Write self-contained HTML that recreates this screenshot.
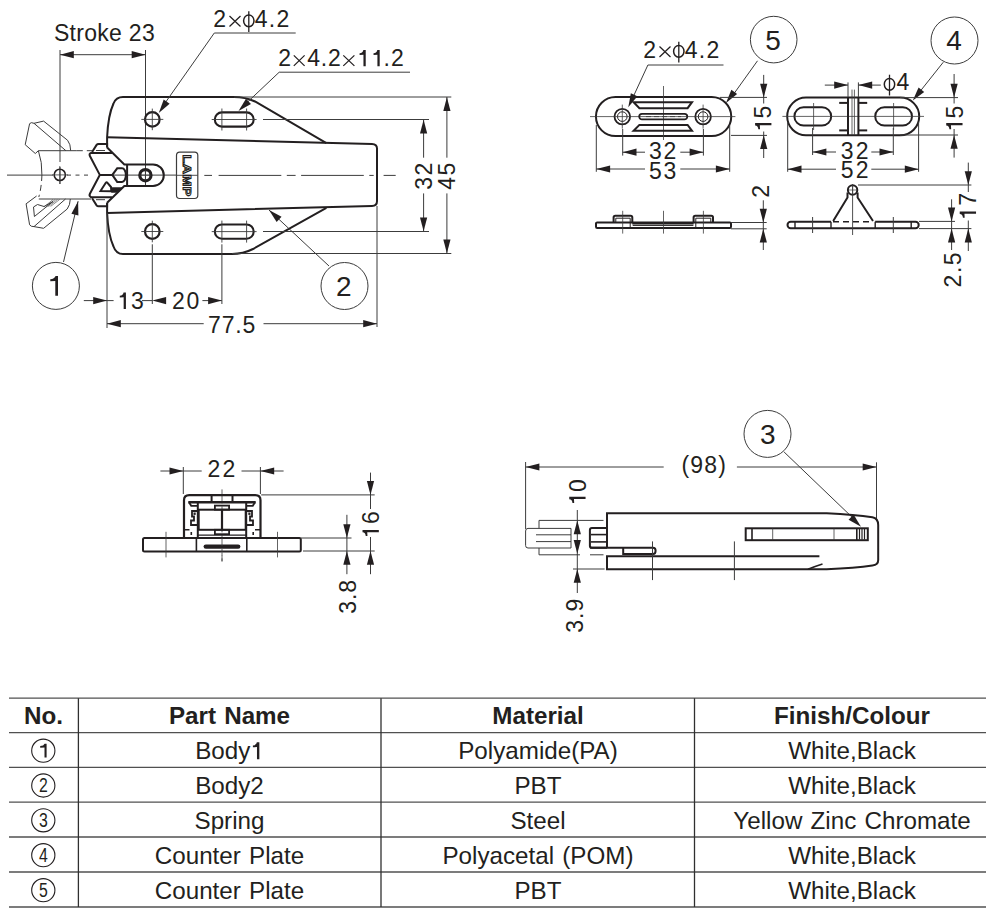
<!DOCTYPE html>
<html><head><meta charset="utf-8"><style>
html,body{margin:0;padding:0;background:#fff;}
svg{display:block;}
text{font-family:"Liberation Sans",sans-serif;fill:#231f20;}
</style></head><body>
<svg width="1000" height="915" viewBox="0 0 1000 915">
<rect width="1000" height="915" fill="#fff"/>
<text transform="translate(53.88,41.47)" font-size="23.00" letter-spacing="0.30" font-weight="normal">Stroke 23</text>
<line x1="60" y1="50" x2="60" y2="162" stroke="#3c3c3c" stroke-width="1.0"/>
<line x1="60" y1="167" x2="60" y2="184" stroke="#3c3c3c" stroke-width="1.0"/>
<line x1="145.5" y1="50" x2="145.5" y2="185" stroke="#3c3c3c" stroke-width="1.0"/>
<line x1="60" y1="54.7" x2="145.5" y2="54.7" stroke="#3c3c3c" stroke-width="1.0"/>
<path d="M60,54.7 L73.8,51.1 L73.8,58.3 Z" fill="#231f20"/>
<path d="M145.5,54.7 L131.7,58.3 L131.7,51.1 Z" fill="#231f20"/>
<path d="M38.4,150.7 L35.3,153.5 L25.2,144.7 L29.6,123.7 Q31,121.8 34,123.3 L43.6,121.1 L67.6,140.3 Q70.6,144 70.7,150.7" fill="none" stroke="#3c3c3c" stroke-width="1.0" />
<line x1="34" y1="123.3" x2="65.9" y2="150.7" stroke="#3c3c3c" stroke-width="1.0"/>
<line x1="38.4" y1="150.7" x2="76.8" y2="150.7" stroke="#3c3c3c" stroke-width="1.0"/>
<line x1="76.8" y1="150.7" x2="92" y2="150.7" stroke="#3c3c3c" stroke-width="1.0" stroke-dasharray="6 4"/>
<path d="M38.4,150.8 Q42.3,162 41.9,174.9" fill="none" stroke="#3c3c3c" stroke-width="1.0" />
<path d="M41.9,174.9 Q41.6,187 38.8,197" fill="none" stroke="#3c3c3c" stroke-width="1.0" stroke-dasharray="6 4"/>
<line x1="38.8" y1="199" x2="91" y2="199" stroke="#3c3c3c" stroke-width="1.0"/>
<path d="M36.6,196 L26.1,203.8 L29.6,224.8 Q31,226.8 34,226.6 L43.6,228.3 L67.2,209 Q70.2,205 70.3,199" fill="none" stroke="#3c3c3c" stroke-width="1.0" />
<line x1="34" y1="226.6" x2="65.5" y2="199" stroke="#3c3c3c" stroke-width="1.0"/>
<path d="M37.5,204.5 L33.5,207 L34.4,216.5 L53,201.5 L44,206.5 Z" fill="none" stroke="#3c3c3c" stroke-width="1.0" />
<line x1="44" y1="207" x2="53" y2="199.5" stroke="#3c3c3c" stroke-width="0.6"/>
<line x1="46.2" y1="206.8" x2="55.2" y2="199.5" stroke="#3c3c3c" stroke-width="0.6"/>
<line x1="48.4" y1="206.6" x2="57.4" y2="199.5" stroke="#3c3c3c" stroke-width="0.6"/>
<line x1="50.6" y1="206.4" x2="59.6" y2="199.5" stroke="#3c3c3c" stroke-width="0.6"/>
<circle cx="59.8" cy="174.9" r="5.6" fill="none" stroke="#231f20" stroke-width="1.6"/>
<line x1="52" y1="174.9" x2="68" y2="174.9" stroke="#3c3c3c" stroke-width="0.8"/>
<line x1="59.8" y1="166" x2="59.8" y2="184" stroke="#3c3c3c" stroke-width="0.8"/>
<line x1="7" y1="175.1" x2="53" y2="175.1" stroke="#3c3c3c" stroke-width="1.0"/>
<line x1="67" y1="175.1" x2="92" y2="175.1" stroke="#3c3c3c" stroke-width="1.0" stroke-dasharray="4 4.5"/>
<line x1="99.8" y1="175.1" x2="176.5" y2="175.1" stroke="#3c3c3c" stroke-width="1.0"/>
<line x1="176.5" y1="175.3" x2="197.8" y2="175.3" stroke="#3c3c3c" stroke-width="0.9"/>
<path d="M204.3,175.4 H212 M218.6,175.4 H281.3 M286.8,175.4 H295.6 M301.1,175.4 H363.8 M369.3,175.4 H373.7 M383.6,175.4 H395.7" stroke="#3c3c3c" stroke-width="1" fill="none"/>
<path d="M107.1,147.5 L107.1,137.2 C107.8,122 110.5,110 113.5,103.5 Q116,97 123,97 L234,97 Q245,97 255,101.5 L326.4,143.2" fill="none" stroke="#231f20" stroke-width="2.0" />
<path d="M107.1,137.2 L372,143.9 Q377,144 377,148.5 L377,201.3 Q377,205.9 372,205.9 L107.1,213" fill="none" stroke="#231f20" stroke-width="2.0" />
<path d="M107.1,202.7 L107.1,213 C107.8,228 110.5,240 113.5,246.5 Q116,254 123,254 L232,254 Q243,254 253,249 L326.4,207.8" fill="none" stroke="#231f20" stroke-width="2.0" />
<circle cx="152.3" cy="119.4" r="7.3" fill="none" stroke="#231f20" stroke-width="2.2"/>
<line x1="141.3" y1="119.4" x2="163.3" y2="119.4" stroke="#3c3c3c" stroke-width="0.9"/>
<line x1="152.3" y1="108.6" x2="152.3" y2="130.2" stroke="#3c3c3c" stroke-width="0.9"/>
<circle cx="152.3" cy="231.5" r="7.3" fill="none" stroke="#231f20" stroke-width="2.2"/>
<line x1="141.3" y1="231.5" x2="163.3" y2="231.5" stroke="#3c3c3c" stroke-width="0.9"/>
<line x1="152.3" y1="220.7" x2="152.3" y2="242.3" stroke="#3c3c3c" stroke-width="0.9"/>
<path d="M221.9,112.4 L246.6,112.4 A7.1,7.1 0 0 1 246.6,126.6 L221.9,126.6 A7.1,7.1 0 0 1 221.9,112.4 Z" fill="none" stroke="#231f20" stroke-width="2.1" />
<line x1="221.9" y1="108.5" x2="221.9" y2="130.5" stroke="#3c3c3c" stroke-width="0.9"/>
<line x1="246.6" y1="108.5" x2="246.6" y2="130.5" stroke="#3c3c3c" stroke-width="0.9"/>
<line x1="211.7" y1="119.5" x2="256.6" y2="119.5" stroke="#3c3c3c" stroke-width="0.9"/>
<path d="M221.9,224.5 L246.6,224.5 A7.1,7.1 0 0 1 246.6,238.7 L221.9,238.7 A7.1,7.1 0 0 1 221.9,224.5 Z" fill="none" stroke="#231f20" stroke-width="2.1" />
<line x1="221.9" y1="220.6" x2="221.9" y2="242.6" stroke="#3c3c3c" stroke-width="0.9"/>
<line x1="246.6" y1="220.6" x2="246.6" y2="242.6" stroke="#3c3c3c" stroke-width="0.9"/>
<line x1="211.7" y1="231.6" x2="256.6" y2="231.6" stroke="#3c3c3c" stroke-width="0.9"/>
<line x1="263" y1="119.5" x2="429" y2="119.5" stroke="#3c3c3c" stroke-width="1.0"/>
<line x1="263" y1="231.5" x2="429" y2="231.5" stroke="#3c3c3c" stroke-width="1.0"/>
<line x1="234" y1="97" x2="451.3" y2="97" stroke="#3c3c3c" stroke-width="1.0"/>
<line x1="232" y1="253.5" x2="451.3" y2="253.5" stroke="#3c3c3c" stroke-width="1.0"/>
<path d="M107.1,147.5 L124.3,164.4 L153,164.4 A10.8,10.8 0 0 1 153,186 L124.3,186 L107.1,202.7" fill="none" stroke="#231f20" stroke-width="2.0" />
<path d="M112,153 L91,153 Q88.8,153.8 89.9,156 L99.8,174.9 L89.9,193.8 Q88.8,196 91,197.2 L112,197.2" fill="none" stroke="#231f20" stroke-width="2.0" />
<path d="M92.1,152 L96.6,144.9 Q97.3,144 98.5,144 L107.1,144 L107.1,147.5" fill="none" stroke="#231f20" stroke-width="2.0" />
<path d="M92.1,198.2 L96.6,205.3 Q97.3,206.2 98.5,206.2 L107.1,206.2 L107.1,202.7" fill="none" stroke="#231f20" stroke-width="2.0" />
<line x1="96" y1="150.5" x2="105" y2="150.5" stroke="#3c3c3c" stroke-width="1.0"/>
<line x1="96" y1="199.7" x2="105" y2="199.7" stroke="#3c3c3c" stroke-width="1.0"/>
<line x1="127.1" y1="164.4" x2="127.1" y2="186" stroke="#231f20" stroke-width="2.0"/>
<path d="M99.8,174.9 L112.3,174.9 L117.2,168.3 L122,168.3 A3.9,6.8 0 0 1 122,181.9 L117.2,181.9 L112.3,174.9" fill="none" stroke="#231f20" stroke-width="2.0" />
<path d="M100.5,191 L105.8,182.8 Q106.6,181.8 107.5,182.8 L111,187 L111.3,191.3 Z" fill="none" stroke="#231f20" stroke-width="2.0" />
<path d="M111,187.2 L123.3,187.2 L116.5,192.8 L111.3,192.8 Z" fill="#231f20"/>
<circle cx="145.4" cy="175.2" r="5.6" fill="none" stroke="#231f20" stroke-width="3.2"/>
<line x1="140" y1="175.2" x2="151" y2="175.2" stroke="#3c3c3c" stroke-width="0.7"/>
<line x1="145.4" y1="170" x2="145.4" y2="180.5" stroke="#3c3c3c" stroke-width="0.7"/>
<rect x="176.5" y="152.2" width="21.3" height="46.3" rx="3.2" fill="none" stroke="#3c3c3c" stroke-width="1.2"/>
<text transform="translate(183.1,175.7) rotate(90) scale(1.26,1)" text-anchor="middle" font-weight="bold" font-size="11.3" style="fill:#fff" stroke="#231f20" stroke-width="1.0" letter-spacing="0.3">LAMP</text>
<line x1="214.3" y1="33" x2="295.7" y2="33" stroke="#3c3c3c" stroke-width="1.0"/>
<line x1="214.3" y1="33" x2="164" y2="104.5" stroke="#3c3c3c" stroke-width="1.0"/>
<path d="M158.8,113 L163.71,99.61 L169.62,103.71 Z" fill="#231f20"/>
<text transform="translate(213.28,27.34)" font-size="23.00" letter-spacing="0.00" font-weight="normal">2</text>
<path d="M229.5,16 L240.5,26.5 M240.5,16 L229.5,26.5" stroke="#231f20" stroke-width="1.25" fill="none"/>
<ellipse cx="248.8" cy="20.8" rx="5.2" ry="5.9" stroke="#231f20" stroke-width="1.5" fill="none"/>
<line x1="248.8" y1="11.2" x2="248.8" y2="32" stroke="#231f20" stroke-width="1.3"/>
<text transform="translate(254.74,27.34)" font-size="23.00" letter-spacing="1.31" font-weight="normal">4.2</text>
<line x1="279.2" y1="72.2" x2="410" y2="72.2" stroke="#3c3c3c" stroke-width="1.0"/>
<line x1="279.2" y1="72.2" x2="246" y2="103.5" stroke="#3c3c3c" stroke-width="1.0"/>
<path d="M238.5,111 L246,98.87 L250.97,104.08 Z" fill="#231f20"/>
<text transform="translate(278.33,66.29)" font-size="23.00" letter-spacing="0.00" font-weight="normal">2</text>
<path d="M293.8,55.4 L304.6,65.9 M304.6,55.4 L293.8,65.9" stroke="#231f20" stroke-width="1.25" fill="none"/>
<text transform="translate(307.14,66.29)" font-size="23.00" letter-spacing="0.81" font-weight="normal">4.2</text>
<path d="M343.3,55.4 L354.4,65.9 M354.4,55.4 L343.3,65.9" stroke="#231f20" stroke-width="1.25" fill="none"/>
<g transform="translate(357.16,66.29)"><text font-size="23.00" letter-spacing="1.17" font-weight="normal"><tspan style="fill:none">1</tspan><tspan style="fill:none">1</tspan>.2</text><path d="M8.56,-16.31 L8.56,0 L6.30,0 L6.30,-11.59 L2.42,-11.36 L2.42,-13.09 Q5.84,-13.32 6.19,-16.31 ZM22.52,-16.31 L22.52,0 L20.26,0 L20.26,-11.59 L16.38,-11.36 L16.38,-13.09 Q19.80,-13.32 20.15,-16.31 Z" fill="#231f20"/></g>
<line x1="78.1" y1="201.2" x2="63.5" y2="262" stroke="#3c3c3c" stroke-width="1.0"/>
<path d="M78.1,201.2 L78.38,215.46 L71.38,213.78 Z" fill="#231f20"/>
<circle cx="55.9" cy="285.9" r="23.5" fill="#fff" stroke="#3c3c3c" stroke-width="1.0"/>
<path d="M58,276 L58,295.75 L55.3,295.75 L55.3,280.9 L50.3,281.3 L50.3,279.3 Q54.4,279 55.6,276 Z" fill="#231f20"/>
<circle cx="344.5" cy="286" r="23.5" fill="#fff" stroke="#3c3c3c" stroke-width="1.0"/>
<text transform="translate(336.12,295.59)" font-size="28.00" letter-spacing="0.00" font-weight="normal">2</text>
<line x1="269" y1="210" x2="329" y2="266" stroke="#3c3c3c" stroke-width="1.0"/>
<path d="M269,210 L281.54,216.78 L276.63,222.05 Z" fill="#231f20"/>
<line x1="423.6" y1="119.5" x2="423.6" y2="157.7" stroke="#3c3c3c" stroke-width="1.0"/>
<line x1="423.6" y1="193.4" x2="423.6" y2="231.5" stroke="#3c3c3c" stroke-width="1.0"/>
<path d="M423.6,119.8 L427.2,133.6 L420,133.6 Z" fill="#231f20"/>
<path d="M423.6,231.2 L420,217.4 L427.2,217.4 Z" fill="#231f20"/>
<text transform="translate(431.81,189.72) rotate(-90)" font-size="23.00" letter-spacing="1.47" font-weight="normal">32</text>
<line x1="446.9" y1="97" x2="446.9" y2="157.7" stroke="#3c3c3c" stroke-width="1.0"/>
<line x1="446.9" y1="193.4" x2="446.9" y2="253.5" stroke="#3c3c3c" stroke-width="1.0"/>
<path d="M446.9,97.3 L450.5,111.1 L443.3,111.1 Z" fill="#231f20"/>
<path d="M446.9,253.2 L443.3,239.4 L450.5,239.4 Z" fill="#231f20"/>
<text transform="translate(455.06,189.66) rotate(-90)" font-size="23.00" letter-spacing="1.41" font-weight="normal">45</text>
<line x1="107" y1="213" x2="107" y2="328" stroke="#3c3c3c" stroke-width="1.0"/>
<line x1="152.3" y1="244.3" x2="152.3" y2="304" stroke="#3c3c3c" stroke-width="1.0"/>
<line x1="221.9" y1="244.3" x2="221.9" y2="304" stroke="#3c3c3c" stroke-width="1.0"/>
<line x1="377" y1="206" x2="377" y2="327" stroke="#3c3c3c" stroke-width="1.0"/>
<line x1="83.8" y1="300.6" x2="113.6" y2="300.6" stroke="#3c3c3c" stroke-width="1.0"/>
<path d="M107,300.6 L93.2,304.2 L93.2,297 Z" fill="#231f20"/>
<g transform="translate(117.36,308.91)"><text font-size="23.00" letter-spacing="0.79" font-weight="normal"><tspan style="fill:none">1</tspan>3</text><path d="M8.56,-16.31 L8.56,0 L6.30,0 L6.30,-11.59 L2.42,-11.36 L2.42,-13.09 Q5.84,-13.32 6.19,-16.31 Z" fill="#231f20"/></g>
<line x1="142" y1="300.6" x2="152.3" y2="300.6" stroke="#3c3c3c" stroke-width="1.0"/>
<path d="M152.3,300.6 L166.1,297 L166.1,304.2 Z" fill="#231f20"/>
<text transform="translate(172.12,308.91)" font-size="23.00" letter-spacing="1.67" font-weight="normal">20</text>
<line x1="202.4" y1="300.6" x2="221.9" y2="300.6" stroke="#3c3c3c" stroke-width="1.0"/>
<path d="M221.9,300.6 L208.1,304.2 L208.1,297 Z" fill="#231f20"/>
<line x1="107" y1="323.7" x2="203.7" y2="323.7" stroke="#3c3c3c" stroke-width="1.0"/>
<path d="M107,323.7 L120.8,320.1 L120.8,327.3 Z" fill="#231f20"/>
<text transform="translate(208.02,332.61)" font-size="23.00" letter-spacing="0.85" font-weight="normal">77.5</text>
<line x1="263.5" y1="323.7" x2="377" y2="323.7" stroke="#3c3c3c" stroke-width="1.0"/>
<path d="M377,323.7 L363.2,327.3 L363.2,320.1 Z" fill="#231f20"/>
<path d="M615.5,97 L711.7,97 A19.5,19.5 0 0 1 711.7,136.1 L615.5,136.1 A19.5,19.5 0 0 1 615.5,97 Z" fill="none" stroke="#231f20" stroke-width="2.0" />
<circle cx="622.3" cy="116.6" r="7.8" fill="none" stroke="#231f20" stroke-width="1.8"/>
<circle cx="622.3" cy="116.6" r="4.8" fill="none" stroke="#231f20" stroke-width="1.0"/>
<line x1="622.3" y1="104.6" x2="622.3" y2="128.6" stroke="#3c3c3c" stroke-width="0.8"/>
<circle cx="703.1" cy="116.6" r="7.8" fill="none" stroke="#231f20" stroke-width="1.8"/>
<circle cx="703.1" cy="116.6" r="4.8" fill="none" stroke="#231f20" stroke-width="1.0"/>
<line x1="703.1" y1="104.6" x2="703.1" y2="128.6" stroke="#3c3c3c" stroke-width="0.8"/>
<line x1="590" y1="116.6" x2="735.4" y2="116.6" stroke="#3c3c3c" stroke-width="0.8"/>
<line x1="663.5" y1="86" x2="663.5" y2="140" stroke="#3c3c3c" stroke-width="0.8"/>
<path d="M633.6,102.2 L692,102.2 L687.6,108.2 L639.4,108.2 Z" fill="none" stroke="#231f20" stroke-width="2.0" />
<path d="M633.6,130.8 L692,130.8 L687.6,124.9 L639.4,124.9 Z" fill="none" stroke="#231f20" stroke-width="2.0" />
<path d="M642,113.8 L684.5,113.8 A2.8,2.8 0 0 1 684.5,119.4 L642,119.4 A2.8,2.8 0 0 1 642,113.8 Z" fill="none" stroke="#231f20" stroke-width="1.8" />
<line x1="646" y1="116.6" x2="681" y2="116.6" stroke="#3c3c3c" stroke-width="0.9" stroke-dasharray="5 3"/>
<text transform="translate(643.28,57.84)" font-size="23.00" letter-spacing="0.00" font-weight="normal">2</text>
<path d="M659.5,46.5 L670.5,57 M670.5,46.5 L659.5,57" stroke="#231f20" stroke-width="1.25" fill="none"/>
<ellipse cx="678.8" cy="51.3" rx="5.2" ry="5.9" stroke="#231f20" stroke-width="1.5" fill="none"/>
<line x1="678.8" y1="41.7" x2="678.8" y2="62.5" stroke="#231f20" stroke-width="1.3"/>
<text transform="translate(684.74,57.84)" font-size="23.00" letter-spacing="1.31" font-weight="normal">4.2</text>
<line x1="647.9" y1="65" x2="723.5" y2="65" stroke="#3c3c3c" stroke-width="1.0"/>
<line x1="647.9" y1="65" x2="631.5" y2="100.5" stroke="#3c3c3c" stroke-width="1.0"/>
<path d="M628.3,107.2 L630.85,93.17 L637.38,96.2 Z" fill="#231f20"/>
<circle cx="773.7" cy="39.6" r="23.3" fill="#fff" stroke="#3c3c3c" stroke-width="1.0"/>
<text transform="translate(765.34,50.38)" font-size="28.00" letter-spacing="0.00" font-weight="normal">5</text>
<line x1="757.5" y1="60.8" x2="733" y2="95" stroke="#3c3c3c" stroke-width="1.0"/>
<path d="M726,103 L731.37,89.79 L737.14,94.09 Z" fill="#231f20"/>
<line x1="720" y1="97.4" x2="767" y2="97.4" stroke="#3c3c3c" stroke-width="1.0"/>
<line x1="731" y1="135.4" x2="767" y2="135.4" stroke="#3c3c3c" stroke-width="1.0"/>
<line x1="763.7" y1="74.9" x2="763.7" y2="103.5" stroke="#3c3c3c" stroke-width="1.0"/>
<path d="M763.7,97.6 L760.1,83.8 L767.3,83.8 Z" fill="#231f20"/>
<line x1="763.7" y1="131.5" x2="763.7" y2="158" stroke="#3c3c3c" stroke-width="1.0"/>
<path d="M763.7,135.3 L767.3,149.1 L760.1,149.1 Z" fill="#231f20"/>
<g transform="translate(771.41,131.59) rotate(-90)"><text font-size="23.00" letter-spacing="0.34" font-weight="normal"><tspan style="fill:none">1</tspan>5</text><path d="M8.56,-16.31 L8.56,0 L6.30,0 L6.30,-11.59 L2.42,-11.36 L2.42,-13.09 Q5.84,-13.32 6.19,-16.31 Z" fill="#231f20"/></g>
<line x1="622.7" y1="129" x2="622.7" y2="155.6" stroke="#3c3c3c" stroke-width="1.0"/>
<line x1="703.4" y1="129" x2="703.4" y2="155.6" stroke="#3c3c3c" stroke-width="1.0"/>
<line x1="596.3" y1="125" x2="596.3" y2="171.8" stroke="#3c3c3c" stroke-width="1.0"/>
<line x1="729.7" y1="125" x2="729.7" y2="171.8" stroke="#3c3c3c" stroke-width="1.0"/>
<line x1="622.7" y1="152.2" x2="645" y2="152.2" stroke="#3c3c3c" stroke-width="1.0"/>
<path d="M622.7,152.2 L636.5,148.6 L636.5,155.8 Z" fill="#231f20"/>
<line x1="680.3" y1="152.2" x2="703.4" y2="152.2" stroke="#3c3c3c" stroke-width="1.0"/>
<path d="M703.4,152.2 L689.6,155.8 L689.6,148.6 Z" fill="#231f20"/>
<text transform="translate(648.98,159.16)" font-size="23.00" letter-spacing="1.77" font-weight="normal">32</text>
<line x1="596.3" y1="169" x2="645" y2="169" stroke="#3c3c3c" stroke-width="1.0"/>
<path d="M596.3,169 L610.1,165.4 L610.1,172.6 Z" fill="#231f20"/>
<line x1="680.3" y1="169" x2="729.7" y2="169" stroke="#3c3c3c" stroke-width="1.0"/>
<path d="M729.7,169 L715.9,172.6 L715.9,165.4 Z" fill="#231f20"/>
<text transform="translate(648.98,178.71)" font-size="23.00" letter-spacing="1.77" font-weight="normal">53</text>
<path d="M613.6,222.5 L613.6,217.5 Q613.6,215.8 615.3,215.8 L630.6,215.8 Q632.3,215.8 632.3,217.5 L632.3,222.5" fill="none" stroke="#231f20" stroke-width="2.0" />
<path d="M693.6,222.5 L693.6,217.5 Q693.6,215.8 695.3,215.8 L711.3,215.8 Q713,215.8 713,217.5 L713,222.5" fill="none" stroke="#231f20" stroke-width="2.0" />
<path d="M615.8,222.5 L615.8,218.2 L630.2,218.2 L630.2,227 M695.8,227 L695.8,218.2 L710.8,218.2 L710.8,222.5" fill="none" stroke="#231f20" stroke-width="1.0" />
<rect x="596" y="222.4" width="135" height="5.6" rx="1.2" fill="none" stroke="#231f20" stroke-width="2.0"/>
<line x1="632.3" y1="223.3" x2="693.6" y2="223.3" stroke="#231f20" stroke-width="2.4"/>
<line x1="632.7" y1="225.4" x2="693.4" y2="225.4" stroke="#231f20" stroke-width="1.0"/>
<line x1="622.7" y1="210.8" x2="622.7" y2="233.6" stroke="#3c3c3c" stroke-width="0.8"/>
<line x1="663.5" y1="210.8" x2="663.5" y2="233.6" stroke="#3c3c3c" stroke-width="0.8"/>
<line x1="703.4" y1="210.8" x2="703.4" y2="233.6" stroke="#3c3c3c" stroke-width="0.8"/>
<line x1="731" y1="222.5" x2="766.7" y2="222.5" stroke="#3c3c3c" stroke-width="1.0"/>
<line x1="731" y1="228.8" x2="766.7" y2="228.8" stroke="#3c3c3c" stroke-width="1.0"/>
<line x1="763.3" y1="200.3" x2="763.3" y2="250" stroke="#3c3c3c" stroke-width="1.0"/>
<path d="M763.3,222.5 L759.7,208.7 L766.9,208.7 Z" fill="#231f20"/>
<path d="M763.3,228.8 L766.9,242.6 L759.7,242.6 Z" fill="#231f20"/>
<text transform="translate(768.96,197.72) rotate(-90)" font-size="23.00" letter-spacing="0.00" font-weight="normal">2</text>
<path d="M806,97.6 L900.4,97.6 A18.8,18.8 0 0 1 900.4,135.2 L806,135.2 A18.8,18.8 0 0 1 806,97.6 Z" fill="none" stroke="#231f20" stroke-width="2.0" />
<path d="M803.6,107.2 L822,107.2 A9.2,9.2 0 0 1 822,125.6 L803.6,125.6 A9.2,9.2 0 0 1 803.6,107.2 Z" fill="none" stroke="#231f20" stroke-width="2.0" />
<path d="M884.4,107.2 L902.8,107.2 A9.2,9.2 0 0 1 902.8,125.6 L884.4,125.6 A9.2,9.2 0 0 1 884.4,107.2 Z" fill="none" stroke="#231f20" stroke-width="2.0" />
<line x1="782.4" y1="116.4" x2="924" y2="116.4" stroke="#3c3c3c" stroke-width="0.8"/>
<line x1="813.6" y1="103" x2="813.6" y2="130" stroke="#3c3c3c" stroke-width="0.8"/>
<line x1="893.6" y1="103" x2="893.6" y2="130" stroke="#3c3c3c" stroke-width="0.8"/>
<line x1="848" y1="97.6" x2="848" y2="135.2" stroke="#231f20" stroke-width="2.0"/>
<line x1="858.4" y1="97.6" x2="858.4" y2="135.2" stroke="#231f20" stroke-width="2.0"/>
<line x1="852" y1="89.6" x2="852" y2="135" stroke="#3c3c3c" stroke-width="0.8"/>
<line x1="854.4" y1="89.6" x2="854.4" y2="135" stroke="#3c3c3c" stroke-width="0.8"/>
<line x1="839.2" y1="102.9" x2="848" y2="102.9" stroke="#231f20" stroke-width="2.0"/>
<line x1="858.4" y1="102.9" x2="867.2" y2="102.9" stroke="#231f20" stroke-width="2.0"/>
<line x1="839.2" y1="130.4" x2="848" y2="130.4" stroke="#231f20" stroke-width="2.0"/>
<line x1="858.4" y1="130.4" x2="867.2" y2="130.4" stroke="#231f20" stroke-width="2.0"/>
<line x1="848" y1="82.4" x2="848" y2="97" stroke="#3c3c3c" stroke-width="1.0"/>
<line x1="858.4" y1="82.4" x2="858.4" y2="97" stroke="#3c3c3c" stroke-width="1.0"/>
<line x1="824.8" y1="85.1" x2="848" y2="85.1" stroke="#3c3c3c" stroke-width="1.0"/>
<path d="M848,85.1 L834.2,88.7 L834.2,81.5 Z" fill="#231f20"/>
<line x1="858.4" y1="85.1" x2="880.8" y2="85.1" stroke="#3c3c3c" stroke-width="1.0"/>
<path d="M858.4,85.1 L872.2,81.5 L872.2,88.7 Z" fill="#231f20"/>
<ellipse cx="889.5" cy="84.3" rx="5.2" ry="5.9" stroke="#231f20" stroke-width="1.5" fill="none"/>
<line x1="889.5" y1="74.7" x2="889.5" y2="95.5" stroke="#231f20" stroke-width="1.3"/>
<text transform="translate(896.46,90.34)" font-size="23.00" letter-spacing="0.00" font-weight="normal">4</text>
<circle cx="954.5" cy="40.5" r="23.5" fill="#fff" stroke="#3c3c3c" stroke-width="1.0"/>
<text transform="translate(946.34,50.09)" font-size="28.00" letter-spacing="0.00" font-weight="normal">4</text>
<line x1="943.3" y1="62.2" x2="918" y2="94" stroke="#3c3c3c" stroke-width="1.0"/>
<path d="M912.8,100.5 L918.58,87.46 L924.21,91.95 Z" fill="#231f20"/>
<line x1="900" y1="97.6" x2="958" y2="97.6" stroke="#3c3c3c" stroke-width="1.0"/>
<line x1="900" y1="135" x2="958" y2="135" stroke="#3c3c3c" stroke-width="1.0"/>
<line x1="954.1" y1="74" x2="954.1" y2="103.5" stroke="#3c3c3c" stroke-width="1.0"/>
<path d="M954.1,97.6 L950.5,83.8 L957.7,83.8 Z" fill="#231f20"/>
<line x1="954.1" y1="129" x2="954.1" y2="157.6" stroke="#3c3c3c" stroke-width="1.0"/>
<path d="M954.1,135 L957.7,148.8 L950.5,148.8 Z" fill="#231f20"/>
<g transform="translate(962.53,131.59) rotate(-90)"><text font-size="23.00" letter-spacing="0.34" font-weight="normal"><tspan style="fill:none">1</tspan>5</text><path d="M8.56,-16.31 L8.56,0 L6.30,0 L6.30,-11.59 L2.42,-11.36 L2.42,-13.09 Q5.84,-13.32 6.19,-16.31 Z" fill="#231f20"/></g>
<line x1="812.6" y1="128" x2="812.6" y2="155" stroke="#3c3c3c" stroke-width="1.0"/>
<line x1="893.3" y1="128" x2="893.3" y2="155" stroke="#3c3c3c" stroke-width="1.0"/>
<line x1="787.7" y1="122" x2="787.7" y2="171.8" stroke="#3c3c3c" stroke-width="1.0"/>
<line x1="918.6" y1="122" x2="918.6" y2="171.8" stroke="#3c3c3c" stroke-width="1.0"/>
<line x1="812.6" y1="152" x2="836" y2="152" stroke="#3c3c3c" stroke-width="1.0"/>
<path d="M812.6,152 L826.4,148.4 L826.4,155.6 Z" fill="#231f20"/>
<line x1="871.3" y1="152" x2="893.3" y2="152" stroke="#3c3c3c" stroke-width="1.0"/>
<path d="M893.3,152 L879.5,155.6 L879.5,148.4 Z" fill="#231f20"/>
<text transform="translate(840.63,158.61)" font-size="23.00" letter-spacing="2.32" font-weight="normal">32</text>
<line x1="787.7" y1="169.2" x2="836" y2="169.2" stroke="#3c3c3c" stroke-width="1.0"/>
<path d="M787.7,169.2 L801.5,165.6 L801.5,172.8 Z" fill="#231f20"/>
<line x1="871.3" y1="169.2" x2="918.6" y2="169.2" stroke="#3c3c3c" stroke-width="1.0"/>
<path d="M918.6,169.2 L904.8,172.8 L904.8,165.6 Z" fill="#231f20"/>
<text transform="translate(840.63,177.91)" font-size="23.00" letter-spacing="2.32" font-weight="normal">52</text>
<path d="M831,221.8 L790.7,221.8 A3.2,3.2 0 0 0 790.7,228.2 L915.5,228.2 A3.2,3.2 0 0 0 915.5,221.8 L875.2,221.8" fill="none" stroke="#231f20" stroke-width="2.0" />
<line x1="833" y1="221.8" x2="873" y2="221.8" stroke="#231f20" stroke-width="1.6" stroke-dasharray="6 4"/>
<line x1="795" y1="221.8" x2="795" y2="228.2" stroke="#231f20" stroke-width="1.4"/>
<line x1="911.2" y1="221.8" x2="911.2" y2="228.2" stroke="#231f20" stroke-width="1.4"/>
<line x1="831" y1="221.8" x2="831" y2="228.2" stroke="#231f20" stroke-width="1.4"/>
<line x1="875.2" y1="221.8" x2="875.2" y2="228.2" stroke="#231f20" stroke-width="1.4"/>
<path d="M833.2,221 L847.5,197.5 L847.5,192.5" fill="none" stroke="#231f20" stroke-width="2.0" />
<path d="M873,221 L857.6,197.5 L857.6,192.5" fill="none" stroke="#231f20" stroke-width="2.0" />
<circle cx="852.6" cy="190" r="4.7" fill="#fff" stroke="#231f20" stroke-width="2.0"/>
<line x1="848" y1="190" x2="857" y2="190" stroke="#3c3c3c" stroke-width="0.7"/>
<line x1="852.6" y1="185.5" x2="852.6" y2="194.5" stroke="#3c3c3c" stroke-width="0.7"/>
<line x1="812.6" y1="217" x2="812.6" y2="233" stroke="#3c3c3c" stroke-width="1.0"/>
<line x1="893.3" y1="217" x2="893.3" y2="233" stroke="#3c3c3c" stroke-width="1.0"/>
<line x1="852.6" y1="184" x2="852.6" y2="235" stroke="#3c3c3c" stroke-width="0.9"/>
<line x1="858" y1="185" x2="971.4" y2="185" stroke="#3c3c3c" stroke-width="1.0"/>
<line x1="919" y1="221.4" x2="955" y2="221.4" stroke="#3c3c3c" stroke-width="1.0"/>
<line x1="919" y1="228.6" x2="971.4" y2="228.6" stroke="#3c3c3c" stroke-width="1.0"/>
<line x1="968.3" y1="162.6" x2="968.3" y2="192" stroke="#3c3c3c" stroke-width="1.0"/>
<path d="M968.3,185 L964.7,171.2 L971.9,171.2 Z" fill="#231f20"/>
<line x1="968.3" y1="220.5" x2="968.3" y2="251" stroke="#3c3c3c" stroke-width="1.0"/>
<path d="M968.3,228.6 L971.9,242.4 L964.7,242.4 Z" fill="#231f20"/>
<g transform="translate(976.04,220.14) rotate(-90)"><text font-size="23.00" letter-spacing="1.69" font-weight="normal"><tspan style="fill:none">1</tspan>7</text><path d="M8.56,-16.31 L8.56,0 L6.30,0 L6.30,-11.59 L2.42,-11.36 L2.42,-13.09 Q5.84,-13.32 6.19,-16.31 Z" fill="#231f20"/></g>
<line x1="951.6" y1="199.3" x2="951.6" y2="250" stroke="#3c3c3c" stroke-width="1.0"/>
<path d="M951.6,221.4 L948,207.6 L955.2,207.6 Z" fill="#231f20"/>
<path d="M951.6,228.6 L955.2,242.4 L948,242.4 Z" fill="#231f20"/>
<text transform="translate(960.71,287.38) rotate(-90)" font-size="23.00" letter-spacing="1.47" font-weight="normal">2.5</text>
<line x1="222" y1="489.4" x2="222" y2="561.4" stroke="#3c3c3c" stroke-width="0.8" stroke-dasharray="14 3 3 3"/>
<path d="M184,537.5 L184,500.2 Q184,495.1 189.2,495.1 L255.3,495.1 Q260.5,495.1 260.5,500.2 L260.5,537.5" fill="none" stroke="#231f20" stroke-width="2.2" />
<line x1="211.6" y1="495.1" x2="211.6" y2="501" stroke="#231f20" stroke-width="2.0"/>
<line x1="232.5" y1="495.1" x2="232.5" y2="501" stroke="#231f20" stroke-width="2.0"/>
<line x1="188.3" y1="502.3" x2="255.7" y2="502.3" stroke="#231f20" stroke-width="2.4"/>
<path d="M189,502.3 L191.2,505.8 L197.8,505.8 M255,502.3 L252.8,505.8 L246.2,505.8" fill="none" stroke="#231f20" stroke-width="1.8" />
<rect x="198.7" y="509.7" width="47" height="20.1" fill="none" stroke="#231f20" stroke-width="2.0"/>
<line x1="197.8" y1="502.3" x2="197.8" y2="537.5" stroke="#231f20" stroke-width="2.0"/>
<line x1="246.2" y1="502.3" x2="246.2" y2="537.5" stroke="#231f20" stroke-width="2.0"/>
<line x1="222" y1="509.7" x2="222" y2="529.8" stroke="#231f20" stroke-width="2.2"/>
<rect x="214.9" y="505.6" width="14.2" height="4.1" fill="none" stroke="#231f20" stroke-width="1.8"/>
<rect x="214.9" y="529.8" width="14.2" height="4.4" fill="none" stroke="#231f20" stroke-width="1.8"/>
<path d="M197.8,511 L192,511 L192,516.5 L194,516.5 L194,520.5 L191,520.5 L191,525 L197.8,525" fill="none" stroke="#231f20" stroke-width="1.8" />
<path d="M246.2,511 L252,511 L252,516.5 L250,516.5 L250,520.5 L253,520.5 L253,525 L246.2,525" fill="none" stroke="#231f20" stroke-width="1.8" />
<rect x="193.5" y="512.5" width="2.2" height="2.4" fill="#231f20"/>
<rect x="248.3" y="512.5" width="2.2" height="2.4" fill="#231f20"/>
<path d="M184,529.8 L189.5,529.8 M260.5,529.8 L255,529.8 M191.3,532 L191.3,535 M253.2,532 L253.2,535" fill="none" stroke="#231f20" stroke-width="1.6" />
<line x1="197.8" y1="535.2" x2="246.2" y2="535.2" stroke="#231f20" stroke-width="1.2"/>
<rect x="143" y="538" width="157.8" height="13.5" rx="1.5" fill="#fff" stroke="#231f20" stroke-width="2.0"/>
<line x1="196.4" y1="538" x2="196.4" y2="551.5" stroke="#231f20" stroke-width="1.6"/>
<line x1="246.8" y1="538" x2="246.8" y2="551.5" stroke="#231f20" stroke-width="1.6"/>
<rect x="203.6" y="544.4" width="36.8" height="4.4" rx="2.2" fill="#231f20"/>
<line x1="166" y1="531.8" x2="166" y2="557.4" stroke="#3c3c3c" stroke-width="0.8"/>
<line x1="277.5" y1="531.8" x2="277.5" y2="557.4" stroke="#3c3c3c" stroke-width="0.8"/>
<line x1="222" y1="538" x2="222" y2="561.4" stroke="#3c3c3c" stroke-width="0.8" stroke-dasharray="8 3 3 3"/>
<line x1="183.3" y1="467" x2="183.3" y2="494" stroke="#3c3c3c" stroke-width="1.0"/>
<line x1="260.4" y1="467" x2="260.4" y2="494" stroke="#3c3c3c" stroke-width="1.0"/>
<line x1="160.4" y1="471" x2="201.7" y2="471" stroke="#3c3c3c" stroke-width="1.0"/>
<path d="M183.3,471 L169.5,474.6 L169.5,467.4 Z" fill="#231f20"/>
<line x1="241.5" y1="471" x2="283.6" y2="471" stroke="#3c3c3c" stroke-width="1.0"/>
<path d="M260.4,471 L274.2,467.4 L274.2,474.6 Z" fill="#231f20"/>
<text transform="translate(207.52,476.96)" font-size="23.00" letter-spacing="2.23" font-weight="normal">22</text>
<line x1="261.2" y1="494.9" x2="374.7" y2="494.9" stroke="#3c3c3c" stroke-width="1.0"/>
<line x1="300.8" y1="538" x2="351.5" y2="538" stroke="#3c3c3c" stroke-width="1.0"/>
<line x1="303" y1="551" x2="374.7" y2="551" stroke="#3c3c3c" stroke-width="1.0"/>
<line x1="370.5" y1="472.6" x2="370.5" y2="509" stroke="#3c3c3c" stroke-width="1.0"/>
<path d="M370.5,494.9 L366.9,481.1 L374.1,481.1 Z" fill="#231f20"/>
<line x1="370.5" y1="537" x2="370.5" y2="574.2" stroke="#3c3c3c" stroke-width="1.0"/>
<path d="M370.5,551 L374.1,564.8 L366.9,564.8 Z" fill="#231f20"/>
<g transform="translate(378.83,538.54) rotate(-90)"><text font-size="23.00" letter-spacing="1.84" font-weight="normal"><tspan style="fill:none">1</tspan>6</text><path d="M8.56,-16.31 L8.56,0 L6.30,0 L6.30,-11.59 L2.42,-11.36 L2.42,-13.09 Q5.84,-13.32 6.19,-16.31 Z" fill="#231f20"/></g>
<line x1="346.9" y1="514.8" x2="346.9" y2="574.2" stroke="#3c3c3c" stroke-width="1.0"/>
<path d="M346.9,538 L343.3,524.2 L350.5,524.2 Z" fill="#231f20"/>
<path d="M346.9,551 L350.5,564.8 L343.3,564.8 Z" fill="#231f20"/>
<text transform="translate(355.91,613.82) rotate(-90)" font-size="23.00" letter-spacing="0.94" font-weight="normal">3.8</text>
<line x1="525.6" y1="462" x2="525.6" y2="529" stroke="#3c3c3c" stroke-width="1.0"/>
<line x1="525.6" y1="467" x2="663.7" y2="467" stroke="#3c3c3c" stroke-width="1.0"/>
<path d="M525.6,467 L539.4,463.4 L539.4,470.6 Z" fill="#231f20"/>
<text transform="translate(681.47,472.7)" font-size="23.00" letter-spacing="1.14" font-weight="normal">(98)</text>
<line x1="736.9" y1="467" x2="876.5" y2="467" stroke="#3c3c3c" stroke-width="1.0"/>
<path d="M876.5,467 L862.7,470.6 L862.7,463.4 Z" fill="#231f20"/>
<line x1="876.5" y1="462.3" x2="876.5" y2="520.5" stroke="#3c3c3c" stroke-width="1.0"/>
<circle cx="767.5" cy="433.9" r="23.5" fill="#fff" stroke="#3c3c3c" stroke-width="1.0"/>
<text transform="translate(760.09,444.25)" font-size="28.00" letter-spacing="0.00" font-weight="normal">3</text>
<line x1="784.1" y1="452" x2="854" y2="519" stroke="#3c3c3c" stroke-width="1.0"/>
<path d="M861,526.7 L848.59,519.67 L853.61,514.5 Z" fill="#231f20"/>
<path d="M607,547.7 L607,513.2 L826.7,513.2 Q855,514.5 872.4,517.3 Q878.2,518.5 878.2,525 L878.2,560 Q878.2,565 872.4,565.5 Q855,568 826.7,569.3 L607,569.3 L607,556.3 L819.4,556.3" fill="none" stroke="#231f20" stroke-width="2.0" />
<path d="M808,569.3 Q816,566 822.5,564" fill="none" stroke="#231f20" stroke-width="1.6" />
<rect x="745.7" y="528.3" width="122.1" height="11.9" fill="none" stroke="#231f20" stroke-width="2.0"/>
<line x1="752" y1="528.3" x2="752" y2="540.2" stroke="#231f20" stroke-width="1.6"/>
<line x1="856.8" y1="528.3" x2="856.8" y2="540.2" stroke="#231f20" stroke-width="1.6"/>
<line x1="772.7" y1="528.3" x2="772.7" y2="540.2" stroke="#3c3c3c" stroke-width="0.8"/>
<line x1="834" y1="528.3" x2="834" y2="540.2" stroke="#3c3c3c" stroke-width="0.8"/>
<line x1="859.5" y1="529" x2="859.5" y2="539.5" stroke="#231f20" stroke-width="1.2"/>
<line x1="862" y1="529" x2="862" y2="539.5" stroke="#231f20" stroke-width="1.2"/>
<line x1="864.5" y1="529" x2="864.5" y2="539.5" stroke="#231f20" stroke-width="1.2"/>
<path d="M607,528 L592,528 Q589.9,528 589.9,530 L589.9,546 Q589.9,547.7 592,547.7 L607,547.7" fill="none" stroke="#231f20" stroke-width="2.0" />
<line x1="591" y1="534.6" x2="606" y2="534.6" stroke="#231f20" stroke-width="1.6"/>
<line x1="591" y1="541.9" x2="606" y2="541.9" stroke="#231f20" stroke-width="1.6"/>
<path d="M589.9,547.7 L653,547.7 Q655.6,547.7 655.6,550.8 Q655.6,554 653,554 L623.2,554 L623.2,547.7" fill="none" stroke="#231f20" stroke-width="2.0" />
<path d="M571,528.4 L528,528.4 Q525.6,528.4 525.6,531 L525.6,545.5 Q525.6,548 528,548 L571,548 Z" fill="none" stroke="#3c3c3c" stroke-width="1.0" />
<line x1="536" y1="534.8" x2="571" y2="534.8" stroke="#3c3c3c" stroke-width="1.0"/>
<line x1="536" y1="541.6" x2="571" y2="541.6" stroke="#3c3c3c" stroke-width="1.0"/>
<line x1="539" y1="520.4" x2="603.5" y2="520.4" stroke="#3c3c3c" stroke-width="1.0"/>
<line x1="539" y1="520.4" x2="539" y2="528.4" stroke="#3c3c3c" stroke-width="1.0"/>
<line x1="539" y1="548" x2="539" y2="554.8" stroke="#3c3c3c" stroke-width="1.0"/>
<line x1="539" y1="554.8" x2="580" y2="554.8" stroke="#3c3c3c" stroke-width="1.0"/>
<line x1="590" y1="554.8" x2="603.5" y2="554.8" stroke="#3c3c3c" stroke-width="1.0"/>
<line x1="573" y1="569" x2="604.6" y2="569" stroke="#3c3c3c" stroke-width="1.0"/>
<line x1="577.3" y1="510" x2="577.3" y2="554.8" stroke="#3c3c3c" stroke-width="1.0"/>
<path d="M577.3,520.4 L580.9,534.2 L573.7,534.2 Z" fill="#231f20"/>
<path d="M577.3,553.7 L573.7,539.9 L580.9,539.9 Z" fill="#231f20"/>
<g transform="translate(585.56,505.34) rotate(-90)"><text font-size="23.00" letter-spacing="0.53" font-weight="normal"><tspan style="fill:none">1</tspan>0</text><path d="M8.56,-16.31 L8.56,0 L6.30,0 L6.30,-11.59 L2.42,-11.36 L2.42,-13.09 Q5.84,-13.32 6.19,-16.31 Z" fill="#231f20"/></g>
<line x1="577.3" y1="554" x2="577.3" y2="593" stroke="#3c3c3c" stroke-width="1.0"/>
<path d="M577.3,569 L580.9,582.8 L573.7,582.8 Z" fill="#231f20"/>
<text transform="translate(583.26,632.82) rotate(-90)" font-size="23.00" letter-spacing="1.04" font-weight="normal">3.9</text>
<line x1="652.5" y1="541.4" x2="652.5" y2="580.1" stroke="#3c3c3c" stroke-width="1.0"/>
<line x1="734.4" y1="541.4" x2="734.4" y2="580.1" stroke="#3c3c3c" stroke-width="1.0"/>
<line x1="9" y1="698.2" x2="986" y2="698.2" stroke="#505050" stroke-width="1.3"/>
<line x1="9" y1="732.6" x2="986" y2="732.6" stroke="#505050" stroke-width="1.3"/>
<line x1="9" y1="767.4" x2="986" y2="767.4" stroke="#505050" stroke-width="1.3"/>
<line x1="9" y1="802.2" x2="986" y2="802.2" stroke="#505050" stroke-width="1.3"/>
<line x1="9" y1="837" x2="986" y2="837" stroke="#505050" stroke-width="1.3"/>
<line x1="9" y1="872" x2="986" y2="872" stroke="#505050" stroke-width="1.3"/>
<line x1="9" y1="907" x2="986" y2="907" stroke="#505050" stroke-width="1.3"/>
<line x1="78.4" y1="698.2" x2="78.4" y2="907" stroke="#303030" stroke-width="1.3"/>
<line x1="381" y1="698.2" x2="381" y2="907" stroke="#303030" stroke-width="1.3"/>
<line x1="694.5" y1="698.2" x2="694.5" y2="907" stroke="#303030" stroke-width="1.3"/>
<text x="43.5" y="723.5" text-anchor="middle" font-size="24.2" word-spacing="1.5" font-weight="bold">No.</text>
<text x="229.5" y="723.5" text-anchor="middle" font-size="24.2" word-spacing="1.5" font-weight="bold">Part Name</text>
<text x="538" y="723.5" text-anchor="middle" font-size="24.2" word-spacing="1.5" font-weight="bold">Material</text>
<text x="852" y="723.5" text-anchor="middle" font-size="24.2" word-spacing="1.5" font-weight="bold">Finish/Colour</text>
<circle cx="43.3" cy="750.7" r="11.6" fill="none" stroke="#231f20" stroke-width="1.1"/>
<path d="M46.6,743.7 L46.6,757.6 L44.5,757.6 L44.5,747.4 L40.2,747.8 L40.2,746.1 Q43.8,745.8 44.6,743.7 Z" fill="#231f20"/>
<text x="195.19" y="759.3" font-size="24.2">Body<tspan style="fill:none">1</tspan></text>
<path transform="translate(250.35,759.3)" d="M9.00,-17.16 L9.00,0 L6.63,0 L6.63,-12.20 L2.54,-11.95 L2.54,-13.77 Q6.15,-14.01 6.51,-17.16 Z" fill="#231f20"/>
<text x="538" y="759.3" text-anchor="middle" font-size="24.2" word-spacing="1.5" font-weight="normal">Polyamide(PA)</text>
<text x="852" y="759.3" text-anchor="middle" font-size="24.2" word-spacing="1.5" font-weight="normal">White,Black</text>
<circle cx="43.3" cy="785.5" r="11.6" fill="none" stroke="#231f20" stroke-width="1.1"/>
<text transform="translate(43.4,792.4) scale(0.82,1)" text-anchor="middle" font-size="19.3">2</text>
<text x="229.5" y="794.0999999999999" text-anchor="middle" font-size="24.2" word-spacing="1.5" font-weight="normal">Body2</text>
<text x="538" y="794.0999999999999" text-anchor="middle" font-size="24.2" word-spacing="1.5" font-weight="normal">PBT</text>
<text x="852" y="794.0999999999999" text-anchor="middle" font-size="24.2" word-spacing="1.5" font-weight="normal">White,Black</text>
<circle cx="43.3" cy="820.3" r="11.6" fill="none" stroke="#231f20" stroke-width="1.1"/>
<text transform="translate(43.4,827.2) scale(0.82,1)" text-anchor="middle" font-size="19.3">3</text>
<text x="229.5" y="828.9" text-anchor="middle" font-size="24.2" word-spacing="1.5" font-weight="normal">Spring</text>
<text x="538" y="828.9" text-anchor="middle" font-size="24.2" word-spacing="1.5" font-weight="normal">Steel</text>
<text x="852" y="828.9" text-anchor="middle" font-size="24.2" word-spacing="1.5" font-weight="normal">Yellow Zinc Chromate</text>
<circle cx="43.3" cy="855.2" r="11.6" fill="none" stroke="#231f20" stroke-width="1.1"/>
<text transform="translate(43.4,862.1) scale(0.82,1)" text-anchor="middle" font-size="19.3">4</text>
<text x="229.5" y="863.6999999999999" text-anchor="middle" font-size="24.2" word-spacing="1.5" font-weight="normal">Counter Plate</text>
<text x="538" y="863.6999999999999" text-anchor="middle" font-size="24.2" word-spacing="1.5" font-weight="normal">Polyacetal (POM)</text>
<text x="852" y="863.6999999999999" text-anchor="middle" font-size="24.2" word-spacing="1.5" font-weight="normal">White,Black</text>
<circle cx="43.3" cy="890.2" r="11.6" fill="none" stroke="#231f20" stroke-width="1.1"/>
<text transform="translate(43.4,897.1) scale(0.82,1)" text-anchor="middle" font-size="19.3">5</text>
<text x="229.5" y="898.5" text-anchor="middle" font-size="24.2" word-spacing="1.5" font-weight="normal">Counter Plate</text>
<text x="538" y="898.5" text-anchor="middle" font-size="24.2" word-spacing="1.5" font-weight="normal">PBT</text>
<text x="852" y="898.5" text-anchor="middle" font-size="24.2" word-spacing="1.5" font-weight="normal">White,Black</text>
</svg></body></html>
